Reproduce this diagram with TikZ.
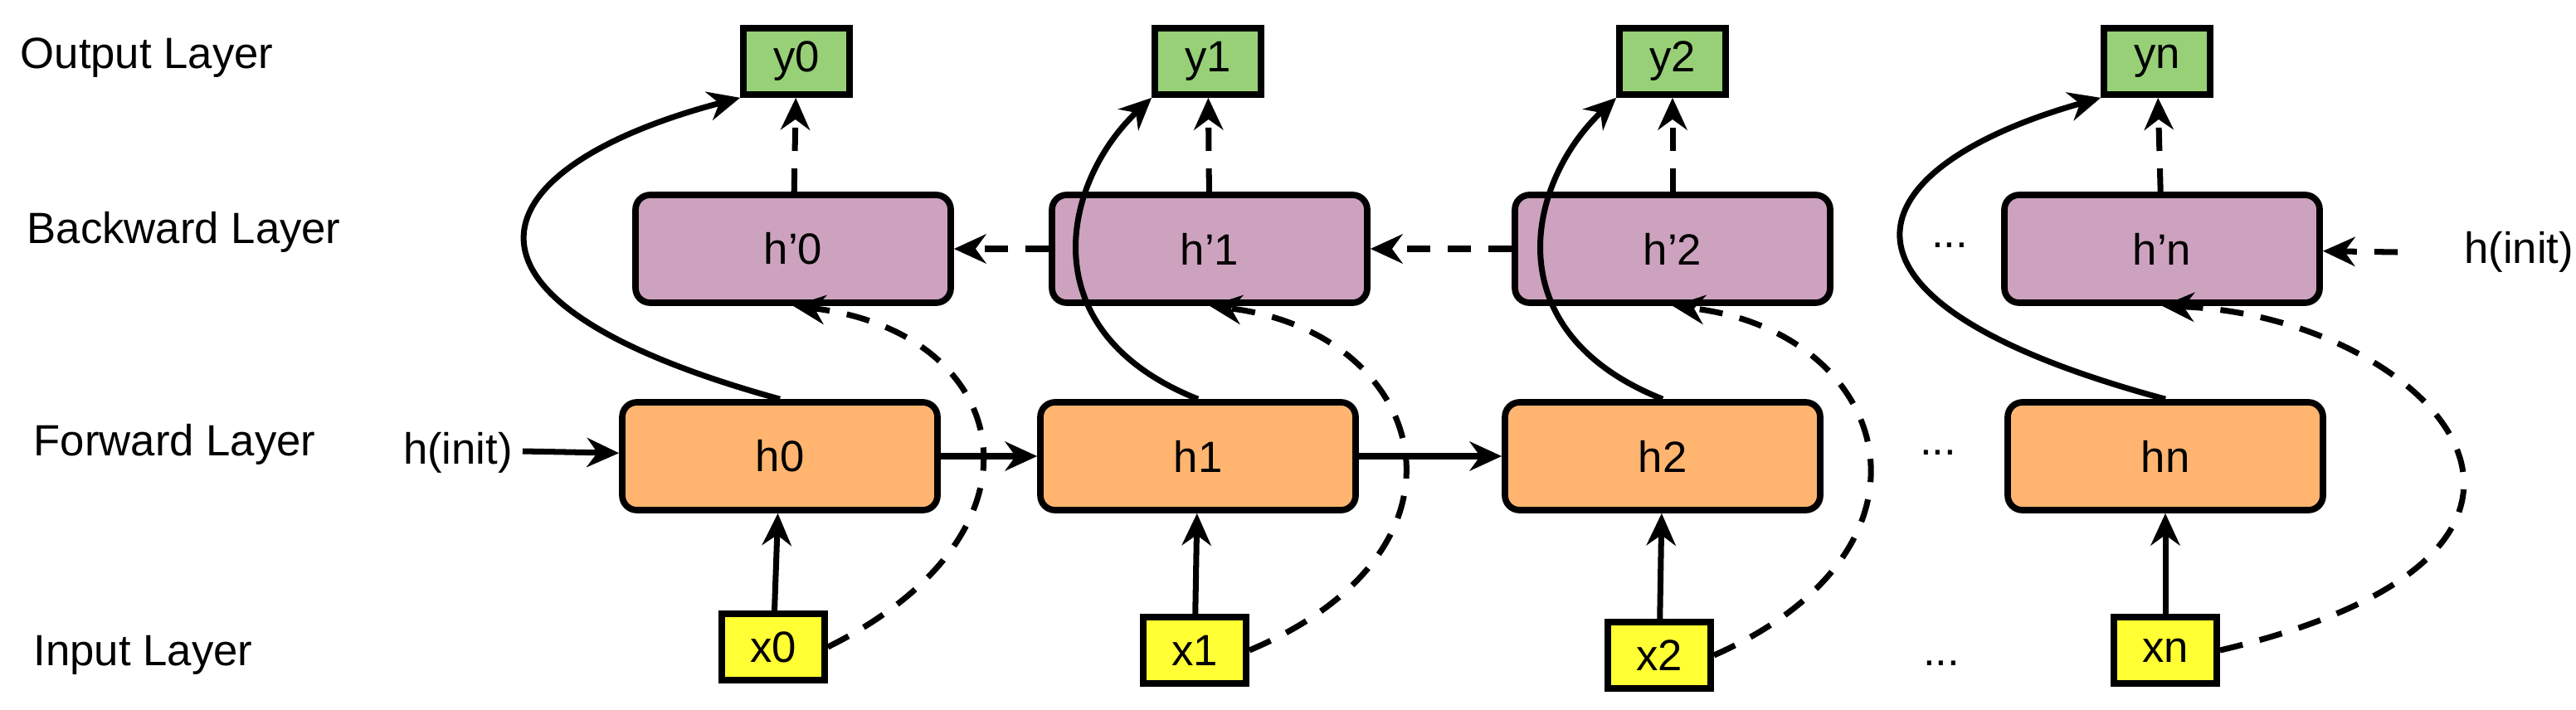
\documentclass[tikz,border=0pt]{standalone}
\usepackage{fontspec}
\setmainfont{Liberation Sans}
\usetikzlibrary{arrows.meta}
\definecolor{outc}{HTML}{97D077}
\definecolor{bwc}{HTML}{CDA2BE}
\definecolor{fwc}{HTML}{FFB570}
\definecolor{inc}{HTML}{FFFF33}
\tikzset{
  box/.style={draw=black, line width=2.2pt, font=\fontsize{15}{18}\selectfont},
  outb/.style={box, fill=outc, minimum width=1.28cm, minimum height=0.8cm},
  inb/.style={box, fill=inc, minimum width=1.24cm, minimum height=0.8cm},
  hid/.style={box, rounded corners=5pt, minimum width=3.8cm, minimum height=1.3cm},
  lbl/.style={font=\fontsize{15}{18}\selectfont, inner sep=0pt},
  con/.style={line width=2pt, -{Stealth[length=11pt,width=10pt]}},
  dcon/.style={con, dash pattern=on 8pt off 6pt},
}
\begin{document}
\begin{tikzpicture}[x=0.02cm,y=-0.02cm]
\useasboundingbox (0,0) rectangle (1552.5,427.5);
% layer labels
\node[lbl, anchor=west] at (12,35) {Output Layer};
\node[lbl, anchor=west] at (16,140) {Backward Layer};
\node[lbl, anchor=west] at (20,268) {Forward Layer};
\node[lbl, anchor=west] at (20,395) {Input Layer};
% outputs
\node[outb] (y0) at (480,37) {y0};
\node[outb] (y1) at (728,37) {y1};
\node[outb] (y2) at (1008,37) {y2};
\node[outb] (yn) at (1300,37) {yn};
% backward
\node[hid, fill=bwc] (b0) at (478,150) {h'0};
\node[hid, fill=bwc] (b1) at (729,150) {h'1};
\node[hid, fill=bwc] (b2) at (1008,150) {h'2};
\node[hid, fill=bwc] (bn) at (1303,150) {h'n};
% forward
\node[hid, fill=fwc] (f0) at (470,275) {h0};
\node[hid, fill=fwc] (f1) at (722,275) {h1};
\node[hid, fill=fwc] (f2) at (1002,275) {h2};
\node[hid, fill=fwc] (fn) at (1305,275) {hn};
% inputs
\node[inb] (x0) at (466,390) {x0};
\node[inb] (x1) at (720,392) {x1};
\node[inb] (x2) at (1000,395) {x2};
\node[inb] (xn) at (1305,392) {xn};
% extra labels
\node[lbl] (hi) at (276,273) {h(init)};
\node[lbl] (hib) at (1518,152) {h(init)};
\node[lbl] at (1175,148) {...};
\node[lbl] at (1168,273) {...};
\node[lbl] at (1170,400) {...};
\coordinate (hie) at (315,272);
\coordinate (hibe) at (1445,152);
% inputs to forward
\draw[con] (x0) -- (f0);
\draw[con] (x1) -- (f1);
\draw[con] (x2) -- (f2);
\draw[con] (xn) -- (fn);
% forward chain
\draw[con] (hie) -- (f0);
\draw[con] (f0) -- (f1);
\draw[con] (f1) -- (f2);
% backward chain
\draw[dcon] (hibe) -- (bn);
\draw[dcon] (b2) -- (b1);
\draw[dcon] (b1) -- (b0);
% backward to output
\draw[dcon] (b0) -- (y0);
\draw[dcon] (b1) -- (y1);
\draw[dcon] (b2) -- (y2);
\draw[dcon] (bn) -- (yn);
% forward to output
\draw[con] (f0.north) .. controls (250,180) and (290,100) .. (y0.south west);
\draw[con] (f1.north) .. controls (620,200) and (640,110) .. (y1.south west);
\draw[con] (f2.north) .. controls (900,200) and (920,110) .. (y2.south west);
\draw[con] (fn.north) .. controls (1080,180) and (1120,100) .. (yn.south west);
% input to backward
\draw[dcon] (x0.east) .. controls (640,320) and (610,200) .. (b0.south);
\draw[dcon] (x1.east) .. controls (900,330) and (860,200) .. (b1.south);
\draw[dcon] (x2.east) .. controls (1180,330) and (1140,200) .. (b2.south);
\draw[dcon] (xn.east) .. controls (1600,330) and (1460,190) .. (bn.south);
\end{tikzpicture}
\end{document}
